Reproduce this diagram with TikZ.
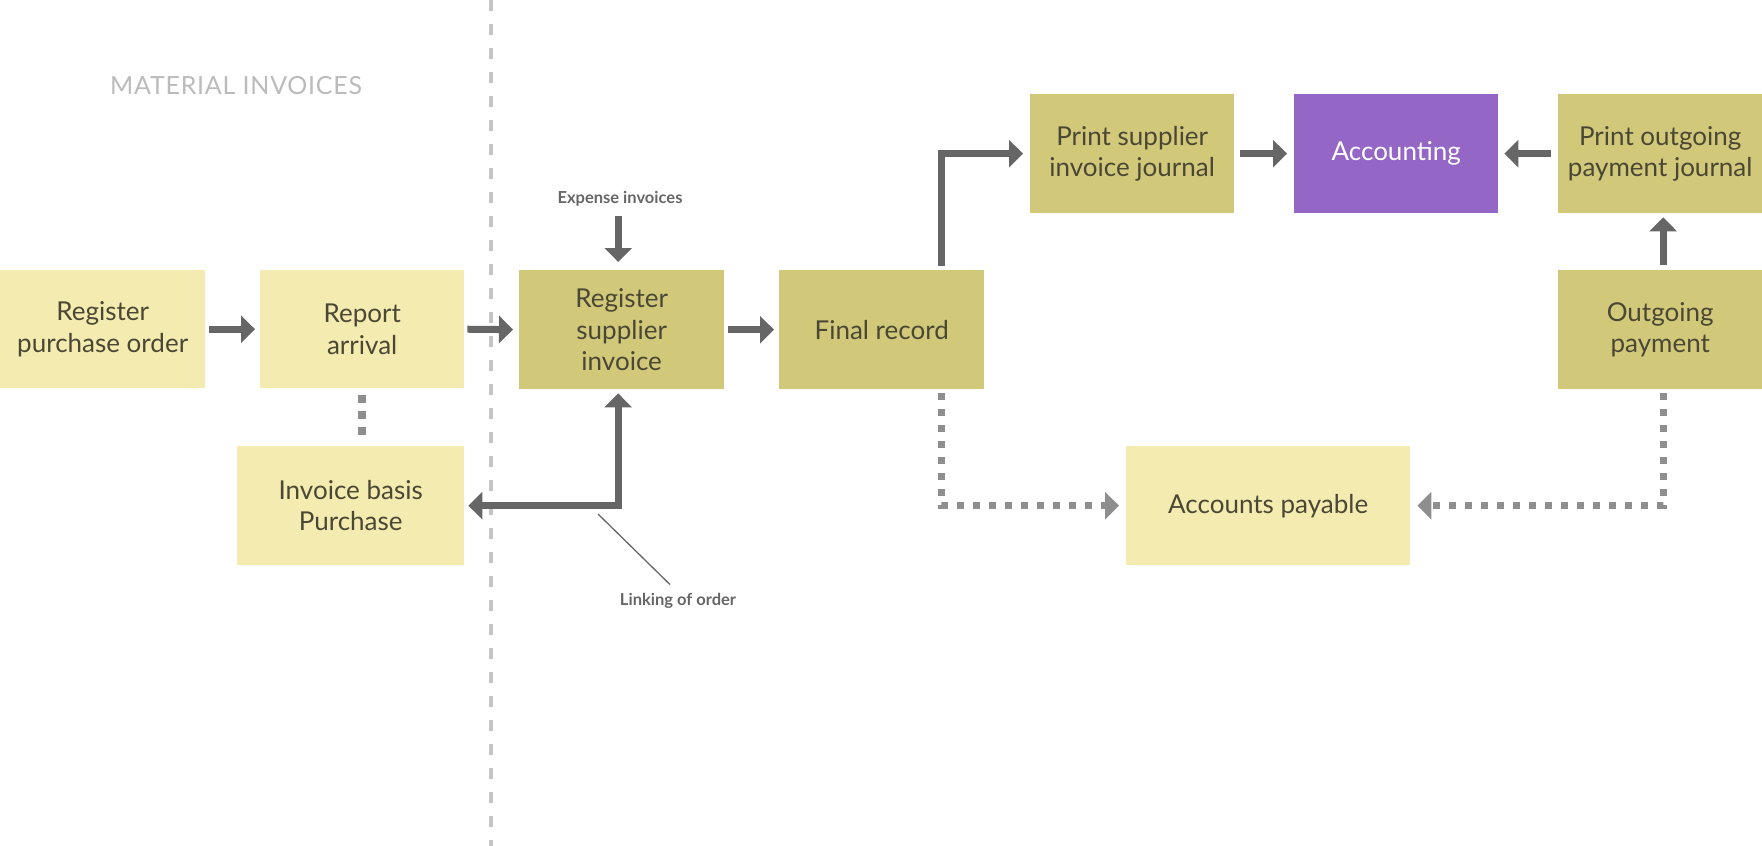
\documentclass[tikz,border=0pt]{standalone}
\usepackage{fontspec}
\setmainfont{Lato}
\usetikzlibrary{arrows.meta,calc}
\definecolor{lightY}{HTML}{F3EBAF}
\definecolor{darkY}{HTML}{D1C87A}
\definecolor{purp}{HTML}{9466C5}
\definecolor{txt}{HTML}{4B4735}
\definecolor{arrg}{HTML}{666666}
\definecolor{dotg}{HTML}{8E8E8E}
\definecolor{sepg}{HTML}{C4C4C4}
\definecolor{titleg}{HTML}{BBBBBB}
\begin{document}
\begin{tikzpicture}[x=1pt,y=-1pt,
  box/.style={rectangle, draw=none, minimum width=204pt, minimum height=119pt, inner sep=0pt,
    align=center, text=txt, font=\fontsize{26}{31.5}\selectfont, anchor=north west},
  lbox/.style={box, fill=lightY},
  dbox/.style={box, fill=darkY},
  pbox/.style={box, fill=purp, text=white},
  tip/.tip={Triangle[length=14pt,width=27pt]},
  flow/.style={draw=arrg, line width=7pt, -tip, shorten <=4pt, shorten >=5pt},
  dotflow/.style={draw=dotg, line width=7pt, dash pattern=on 7pt off 9pt, -tip, shorten <=4pt, shorten >=7pt},
  dotline/.style={draw=dotg, line width=8pt, dash pattern=on 8pt off 8pt},
  sepline/.style={draw=sepg, line width=4pt, dash pattern=on 11pt off 13pt},
  leader/.style={draw=arrg, line width=1.3pt},
  small/.style={text=arrg, inner sep=0pt, anchor=base, font=\bfseries\fontsize{16.5}{19}\selectfont}
]
\useasboundingbox (0,0) rectangle (1762,846);

% separator
\coordinate (septop) at (491,0);
\coordinate (sepbot) at (491,846);
\draw[sepline] (septop) -- (sepbot);

% title
\node[anchor=base west, inner sep=0pt, text=titleg, font=\fontsize{25}{30}\selectfont\addfontfeatures{LetterSpace=3}] (title) at (110,94) {MATERIAL INVOICES};

% boxes
\node[lbox, minimum width=205pt, minimum height=118pt] (rpo) at (0,270) {Register\\purchase order};
\node[lbox, minimum height=118pt] (ra) at (260,270) {Report\\arrival};
\node[dbox, minimum width=205pt] (rsi) at (519,270) {Register\\supplier\\invoice};
\node[dbox, minimum width=205pt] (fr) at (779,270) {Final record};
\node[dbox] (psj) at (1030,94) {Print supplier\\invoice journal};
\node[pbox] (acc) at (1294,94) {Accounting};
\node[dbox] (poj) at (1558,94) {Print outgoing\\payment journal};
\node[dbox] (op) at (1558,270) {Outgoing\\payment};
\node[lbox, minimum width=227pt] (ibp) at (237,446) {Invoice basis\\Purchase};
\node[lbox, minimum width=284pt] (ap) at (1126,446) {Accounts payable};

% small labels
\node[small] (expense) at (620,203) {Expense invoices};
\node[small] (linking) at (678,605) {Linking of order};

% solid arrows
\draw[flow] (rpo.east) -- (ra.west);
\draw[flow, shorten <=3pt, shorten >=6pt] (ra.east) -- (rsi.west);
\draw[flow] (rsi.east) -- (fr.west);
\draw[flow, shorten <=10pt, shorten >=8pt] ([xshift=-3.5pt]rsi.north |- expense.south) -- ([xshift=-3.5pt]rsi.north);
\draw[flow, shorten >=7pt] ([xshift=59.5pt]fr.north) |- (psj.west);
\draw[flow, shorten <=6pt, shorten >=7pt] (psj.east) -- (acc.west);
\draw[flow, shorten <=7pt, shorten >=6pt] (poj.west) -- (acc.east);
\draw[flow, shorten <=5pt, shorten >=4pt] ([xshift=3pt]op.north) -- ([xshift=3pt]poj.south);
\draw[flow, tip-tip, shorten <=4pt, shorten >=4pt] ([xshift=-3.5pt]rsi.south) |- (ibp.east);

% leader line
\coordinate (lk) at (598,514);
\draw[leader] (lk) -- ([xshift=-8pt,yshift=8pt]linking.north);

% dotted connectors
\draw[dotline, shorten <=7pt, shorten >=11pt] (ra.south) -- (ra.south |- ibp.north);
\draw[dotflow] ([xshift=59.5pt]fr.south) |- (ap.west);
\draw[dotflow] ([xshift=3pt]op.south) |- (ap.east);
\end{tikzpicture}
\end{document}
